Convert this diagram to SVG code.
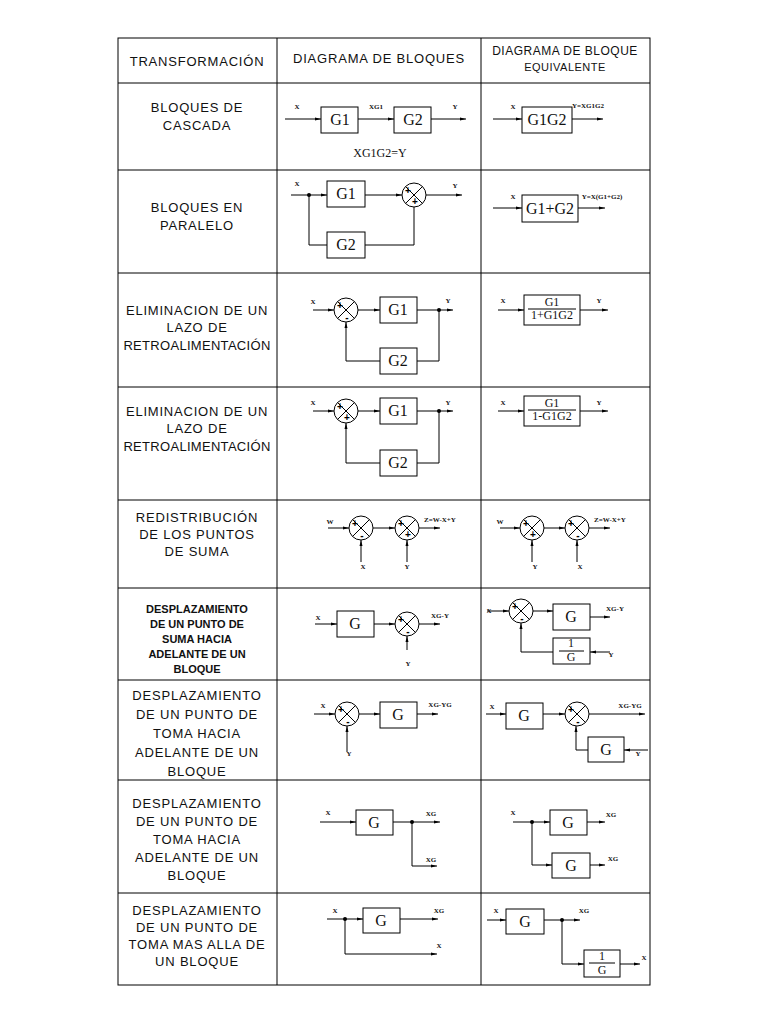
<svg xmlns="http://www.w3.org/2000/svg" width="768" height="1024" viewBox="0 0 768 1024">
<style>
.g{fill:none;stroke:#000;stroke-width:1}
.b{fill:#fff;stroke:#000;stroke-width:1}
.t{font-family:"Liberation Sans",Arial,sans-serif;font-size:13px;letter-spacing:0.8px;text-anchor:middle;fill:#111}
.ts{font-family:"Liberation Sans",Arial,sans-serif;font-size:11px;font-weight:bold;text-anchor:middle;fill:#111}
.h{font-family:"Liberation Sans",Arial,sans-serif;font-size:12px;letter-spacing:0.5px;text-anchor:middle;fill:#111}
.bl{font-family:"Liberation Serif","Times New Roman",serif;font-size:16px;text-anchor:middle;fill:#111}
.fr{font-family:"Liberation Serif","Times New Roman",serif;font-size:12px;text-anchor:middle;fill:#111}
.s{font-family:"Liberation Serif","Times New Roman",serif;font-size:7px;font-weight:bold;text-anchor:middle;fill:#111}
.sg{font-family:"Liberation Sans",Arial,sans-serif;font-size:10px;font-weight:bold;text-anchor:middle;fill:#000}
.c{font-family:"Liberation Serif","Times New Roman",serif;font-size:12px;text-anchor:middle;fill:#111}
</style>
<defs>
<marker id="a" markerWidth="6" markerHeight="4" refX="6" refY="2" orient="auto" markerUnits="userSpaceOnUse"><path d="M0,0.5 L6,2 L0,3.5 Z" fill="#000"/></marker>
<g id="sum"><circle r="12" class="b"/><path d="M-8.5,-8.5 L8.5,8.5 M8.5,-8.5 L-8.5,8.5" class="g"/></g>
</defs>
<rect width="768" height="1024" fill="#fff"/>
<g id="table" class="g">
<rect x="118" y="38" width="532" height="947"/>
<path d="M277,38V985 M481,38V985 M118,83H650 M118,170H650 M118,273H650 M118,387H650 M118,500H650 M118,588H650 M118,680H650 M118,780H650 M118,893H650"/>
</g>
<g id="headers">
<text class="t" x="197" y="66">TRANSFORMACIÓN</text>
<text class="t" x="379" y="63">DIAGRAMA DE BLOQUES</text>
<text class="h" x="565" y="55">DIAGRAMA DE BLOQUE</text>
<text class="h" x="565" y="71" style="font-size:11px">EQUIVALENTE</text>
</g>
<g id="rowlabels">
<text class="t" x="197" y="112">BLOQUES DE</text><text class="t" x="197" y="130">CASCADA</text>
<text class="t" x="197" y="212">BLOQUES EN</text><text class="t" x="197" y="230">PARALELO</text>
<text class="t" x="197" y="315">ELIMINACION DE UN</text><text class="t" x="197" y="332">LAZO DE</text><text class="t" x="197" y="350" style="letter-spacing:0.3px">RETROALIMENTACIÓN</text>
<text class="t" x="197" y="416">ELIMINACION DE UN</text><text class="t" x="197" y="433">LAZO DE</text><text class="t" x="197" y="451" style="letter-spacing:0.3px">RETROALIMENTACIÓN</text>
<text class="t" x="197" y="522">REDISTRIBUCIÓN</text><text class="t" x="197" y="539">DE LOS PUNTOS</text><text class="t" x="197" y="556">DE SUMA</text>
<text class="ts" x="197" y="613">DESPLAZAMIENTO</text><text class="ts" x="197" y="628">DE UN PUNTO DE</text><text class="ts" x="197" y="643">SUMA HACIA</text><text class="ts" x="197" y="658">ADELANTE DE UN</text><text class="ts" x="197" y="673">BLOQUE</text>
<text class="t" x="197" y="700">DESPLAZAMIENTO</text><text class="t" x="197" y="719">DE UN PUNTO DE</text><text class="t" x="197" y="738">TOMA HACIA</text><text class="t" x="197" y="757">ADELANTE DE UN</text><text class="t" x="197" y="776">BLOQUE</text>
<text class="t" x="197" y="808">DESPLAZAMIENTO</text><text class="t" x="197" y="826">DE UN PUNTO DE</text><text class="t" x="197" y="844">TOMA HACIA</text><text class="t" x="197" y="862">ADELANTE DE UN</text><text class="t" x="197" y="880">BLOQUE</text>
<text class="t" x="197" y="915">DESPLAZAMIENTO</text><text class="t" x="197" y="932">DE UN PUNTO DE</text><text class="t" x="197" y="949">TOMA MAS ALLA DE</text><text class="t" x="197" y="966">UN BLOQUE</text>
</g>
<g id="connectors" class="g">
<path d="M285,119H321" marker-end="url(#a)"/><path d="M358,119H394" marker-end="url(#a)"/><path d="M431,119H466" marker-end="url(#a)"/>
<path d="M493,119H522" marker-end="url(#a)"/><path d="M572,119H603" marker-end="url(#a)"/>
<path d="M291,195H327" marker-end="url(#a)"/><path d="M365,195H402" marker-end="url(#a)"/><path d="M426,195H462" marker-end="url(#a)"/>
<path d="M309,195V245H327 M365,245H414V207"/>
<path d="M493,208H522" marker-end="url(#a)"/><path d="M578,208H605" marker-end="url(#a)"/>
<path d="M313,310H334" marker-end="url(#a)"/><path d="M358,310H380" marker-end="url(#a)"/><path d="M417,310H453" marker-end="url(#a)"/>
<path d="M439,310V361H417 M380,361H346"/><path d="M346,361V322" marker-end="url(#a)"/>
<path d="M498,310H524" marker-end="url(#a)"/><path d="M580,310H608" marker-end="url(#a)"/>
<path d="M313,411H334" marker-end="url(#a)"/><path d="M358,411H380" marker-end="url(#a)"/><path d="M417,411H453" marker-end="url(#a)"/>
<path d="M439,411V463H417 M380,463H346"/><path d="M346,463V423" marker-end="url(#a)"/>
<path d="M498,411H524" marker-end="url(#a)"/><path d="M580,411H608" marker-end="url(#a)"/>
<path d="M328,528H349" marker-end="url(#a)"/><path d="M373,528H395" marker-end="url(#a)"/><path d="M419,528H440" marker-end="url(#a)"/>
<path d="M361,562V540" marker-end="url(#a)"/><path d="M407,562V540" marker-end="url(#a)"/>
<path d="M500,528H520" marker-end="url(#a)"/><path d="M544,528H565" marker-end="url(#a)"/><path d="M589,528H610" marker-end="url(#a)"/>
<path d="M532,562V540" marker-end="url(#a)"/><path d="M577,562V540" marker-end="url(#a)"/>
<path d="M315,624H337" marker-end="url(#a)"/><path d="M374,624H395" marker-end="url(#a)"/><path d="M419,624H440" marker-end="url(#a)"/>
<path d="M407,650V636" marker-end="url(#a)"/>
<path d="M487,611H509" marker-end="url(#a)"/><path d="M533,611H553" marker-end="url(#a)"/><path d="M590,617H610" marker-end="url(#a)"/>
<path d="M610,652H590" marker-end="url(#a)"/><path d="M553,652H521"/><path d="M521,652V623" marker-end="url(#a)"/>
<path d="M314,714H335" marker-end="url(#a)"/><path d="M359,714H380" marker-end="url(#a)"/><path d="M417,714H438" marker-end="url(#a)"/>
<path d="M347,752V726" marker-end="url(#a)"/>
<path d="M486,714H506" marker-end="url(#a)"/><path d="M543,714H565" marker-end="url(#a)"/><path d="M589,714H645" marker-end="url(#a)"/>
<path d="M648,750H624" marker-end="url(#a)"/><path d="M588,750H576"/><path d="M576,750V726" marker-end="url(#a)"/>
<path d="M320,822H356" marker-end="url(#a)"/><path d="M393,822H440" marker-end="url(#a)"/><path d="M412,822V866H437" marker-end="url(#a)"/>
<path d="M513,822H550" marker-end="url(#a)"/><path d="M587,822H605" marker-end="url(#a)"/>
<path d="M532,822V865H552" marker-end="url(#a)"/><path d="M590,865H605" marker-end="url(#a)"/>
<path d="M327,919H363" marker-end="url(#a)"/><path d="M400,919H438" marker-end="url(#a)"/><path d="M345,919V954H437" marker-end="url(#a)"/>
<path d="M487,920H506" marker-end="url(#a)"/><path d="M544,920H580" marker-end="url(#a)"/><path d="M562,920V964H584" marker-end="url(#a)"/><path d="M620,964H640" marker-end="url(#a)"/>
</g>
<g id="dots" fill="#000">
<circle cx="309" cy="195" r="2"/><circle cx="439" cy="310" r="2"/><circle cx="439" cy="411" r="2"/>
<circle cx="412" cy="822" r="2"/><circle cx="532" cy="822" r="2"/><circle cx="345" cy="919" r="2"/><circle cx="562" cy="920" r="2"/>
</g>
<g id="sums">
<use href="#sum" x="414" y="195"/><use href="#sum" x="346" y="310"/><use href="#sum" x="346" y="411"/>
<use href="#sum" x="361" y="528"/><use href="#sum" x="407" y="528"/><use href="#sum" x="532" y="528"/><use href="#sum" x="577" y="528"/>
<use href="#sum" x="407" y="624"/><use href="#sum" x="521" y="611"/><use href="#sum" x="347" y="714"/><use href="#sum" x="577" y="714"/>
</g>
<g id="signs">
<text class="sg" x="408" y="194">+</text><text class="sg" x="415" y="205">+</text>
<text class="sg" x="340" y="309">+</text><text class="sg" x="347" y="321">-</text>
<text class="sg" x="340" y="410">+</text><text class="sg" x="347" y="421">+</text>
<text class="sg" x="355" y="527">+</text><text class="sg" x="362" y="539">-</text><text class="sg" x="401" y="527">+</text><text class="sg" x="408" y="538">+</text>
<text class="sg" x="526" y="527">+</text><text class="sg" x="533" y="538">+</text><text class="sg" x="571" y="527">+</text><text class="sg" x="578" y="539">-</text>
<text class="sg" x="401" y="623">+</text><text class="sg" x="408" y="635">-</text><text class="sg" x="515" y="610">+</text><text class="sg" x="522" y="622">-</text>
<text class="sg" x="341" y="713">+</text><text class="sg" x="348" y="725">-</text><text class="sg" x="571" y="713">+</text><text class="sg" x="578" y="725">-</text>
</g>
<g id="blocks">
<g id="r1a"><rect class="b" x="321" y="107" width="37" height="26"/><text class="bl" x="340" y="125">G1</text></g>
<g id="r1b"><rect class="b" x="394" y="107" width="37" height="26"/><text class="bl" x="413" y="125">G2</text></g>
<g id="r1c"><rect class="b" x="522" y="107" width="50" height="26"/><text class="bl" x="547" y="125">G1G2</text></g>
<g id="r2a"><rect class="b" x="327" y="181" width="38" height="26"/><text class="bl" x="346" y="199">G1</text></g>
<g id="r2b"><rect class="b" x="327" y="232" width="38" height="26"/><text class="bl" x="346" y="250">G2</text></g>
<g id="r2c"><rect class="b" x="522" y="195" width="56" height="27"/><text class="bl" x="550" y="214">G1+G2</text></g>
<g id="r3a"><rect class="b" x="380" y="297" width="37" height="26"/><text class="bl" x="398" y="315">G1</text></g>
<g id="r3b"><rect class="b" x="380" y="348" width="37" height="26"/><text class="bl" x="398" y="366">G2</text></g>
<g id="r3c"><rect class="b" x="524" y="295" width="56" height="30"/><text class="fr" x="552" y="306">G1</text><path class="g" d="M528,309H576"/><text class="fr" x="552" y="319">1+G1G2</text></g>
<g id="r4a"><rect class="b" x="380" y="398" width="37" height="26"/><text class="bl" x="398" y="416">G1</text></g>
<g id="r4b"><rect class="b" x="380" y="450" width="37" height="26"/><text class="bl" x="398" y="468">G2</text></g>
<g id="r4c"><rect class="b" x="524" y="396" width="56" height="30"/><text class="fr" x="552" y="407">G1</text><path class="g" d="M528,410H576"/><text class="fr" x="552" y="420">1-G1G2</text></g>
<g id="r6a"><rect class="b" x="337" y="611" width="37" height="26"/><text class="bl" x="355" y="629">G</text></g>
<g id="r6b"><rect class="b" x="553" y="604" width="37" height="26"/><text class="bl" x="571" y="622">G</text></g>
<g id="r6c"><rect class="b" x="553" y="638" width="37" height="26"/><text class="fr" x="571" y="647">1</text><path class="g" d="M559,651H584"/><text class="fr" x="571" y="661">G</text></g>
<g id="r7a"><rect class="b" x="380" y="702" width="37" height="26"/><text class="bl" x="398" y="720">G</text></g>
<g id="r7b"><rect class="b" x="506" y="703" width="37" height="26"/><text class="bl" x="524" y="721">G</text></g>
<g id="r7c"><rect class="b" x="588" y="737" width="36" height="25"/><text class="bl" x="606" y="755">G</text></g>
<g id="r8a"><rect class="b" x="356" y="810" width="37" height="25"/><text class="bl" x="374" y="828">G</text></g>
<g id="r8b"><rect class="b" x="550" y="810" width="37" height="25"/><text class="bl" x="568" y="828">G</text></g>
<g id="r8c"><rect class="b" x="552" y="853" width="38" height="25"/><text class="bl" x="571" y="871">G</text></g>
<g id="r9a"><rect class="b" x="363" y="908" width="37" height="25"/><text class="bl" x="381" y="926">G</text></g>
<g id="r9b"><rect class="b" x="506" y="909" width="38" height="25"/><text class="bl" x="525" y="927">G</text></g>
<g id="r9c"><rect class="b" x="584" y="950" width="36" height="27"/><text class="fr" x="602" y="960">1</text><path class="g" d="M589,963H615"/><text class="fr" x="602" y="974">G</text></g>
</g>
<g id="labels">
<text class="s" x="297" y="109">X</text><text class="s" x="376" y="109">XG1</text><text class="s" x="455" y="109">Y</text>
<text class="c" x="380" y="157">XG1G2=Y</text>
<text class="s" x="513" y="109">X</text><text class="s" x="588" y="108">Y=XG1G2</text>
<text class="s" x="297" y="186">X</text><text class="s" x="455" y="188">Y</text>
<text class="s" x="513" y="199">X</text><text class="s" x="602" y="199">Y=X(G1+G2)</text>
<text class="s" x="313" y="304">X</text><text class="s" x="448" y="303">Y</text><text class="s" x="503" y="303">X</text><text class="s" x="599" y="303">Y</text>
<text class="s" x="313" y="405">X</text><text class="s" x="448" y="405">Y</text><text class="s" x="503" y="405">X</text><text class="s" x="599" y="405">Y</text>
<text class="s" x="330" y="524">W</text><text class="s" x="440" y="522">Z=W-X+Y</text><text class="s" x="363" y="569">X</text><text class="s" x="407" y="569">Y</text>
<text class="s" x="500" y="524">W</text><text class="s" x="610" y="522">Z=W-X+Y</text><text class="s" x="535" y="569">Y</text><text class="s" x="580" y="569">X</text>
<text class="s" x="318" y="620">X</text><text class="s" x="440" y="618">XG-Y</text><text class="s" x="408" y="666">Y</text>
<text class="s" x="489" y="613">X</text><text class="s" x="615" y="611">XG-Y</text><text class="s" x="611" y="657">Y</text>
<text class="s" x="323" y="708">X</text><text class="s" x="440" y="707">XG-YG</text><text class="s" x="349" y="756">Y</text>
<text class="s" x="492" y="709">X</text><text class="s" x="630" y="708">XG-YG</text><text class="s" x="638" y="756">Y</text>
<text class="s" x="328" y="815">X</text><text class="s" x="431" y="816">XG</text><text class="s" x="431" y="862">XG</text>
<text class="s" x="513" y="815">X</text><text class="s" x="611" y="817">XG</text><text class="s" x="613" y="861">XG</text>
<text class="s" x="335" y="913">X</text><text class="s" x="439" y="913">XG</text><text class="s" x="439" y="948">X</text>
<text class="s" x="496" y="913">X</text><text class="s" x="584" y="913">XG</text><text class="s" x="644" y="960">X</text>
</g>
</svg>
